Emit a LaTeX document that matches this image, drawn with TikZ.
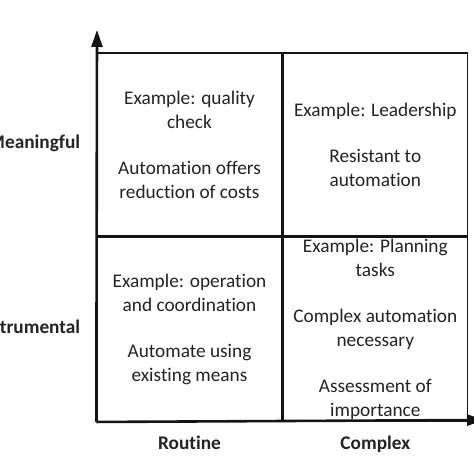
\documentclass[tikz,border=0pt]{standalone}
\usepackage{fontspec}
\setmainfont[Ligatures=NoCommon]{Carlito}
\usetikzlibrary{positioning,arrows.meta}
\definecolor{QuadInk}{RGB}{20,20,20}
\definecolor{QuadText}{RGB}{35,35,35}
\tikzset{
  quad cell/.style={
    draw=QuadInk,
    line width=1.3bp,
    align=center,
    text=QuadText,
    font=\fontsize{19.3bp}{24bp}\selectfont,
    inner sep=0pt
  },
  quad tl/.style={quad cell, minimum width=185bp, minimum height=183bp},
  quad label/.style={font=\fontsize{19.3bp}{24bp}\selectfont\bfseries, text=QuadText,
    inner sep=0pt, text height=13bp, text depth=4bp},
  quad axis/.style={-{Triangle[length=17bp,width=11bp]}, line width=2.6bp, QuadInk}
}

\begin{document}
\begin{tikzpicture}[x=1bp,y=-1bp]
\useasboundingbox (0,0) rectangle (474,474);
\node[quad tl] (tl) at (189.5,144.5) {Example: quality\\check\\[22bp]Automation offers\\reduction of costs};
\node[quad tl, minimum width=184bp, right=0pt of tl] (tr) {Example: Leadership\\[22bp]Resistant to\\automation};
\node[quad tl, minimum height=184bp, below=0pt of tl] (bl) {Example: operation\\and coordination\\[22bp]Automate using\\existing means};
\node[quad tl, minimum width=184bp, minimum height=184bp, right=0pt of bl] (br) {Example: Planning\\tasks\\[22bp]Complex automation\\necessary\\[22bp]Assessment of\\importance};
\coordinate (ytip) at (97,30);
\coordinate (xtip) at (484,420);
\draw[quad axis] (bl.south west)--(ytip);
\draw[quad axis] (bl.south west)--(xtip);
\node[quad label, left=16bp of tl] (meaningful) {Meaningful};
\node[quad label, left=16bp of bl] (instrumental) {Instrumental};
\node[quad label, below=14bp of bl] (routine) {Routine};
\node[quad label, below=14bp of br] (complex) {Complex};
\end{tikzpicture}
\end{document}
